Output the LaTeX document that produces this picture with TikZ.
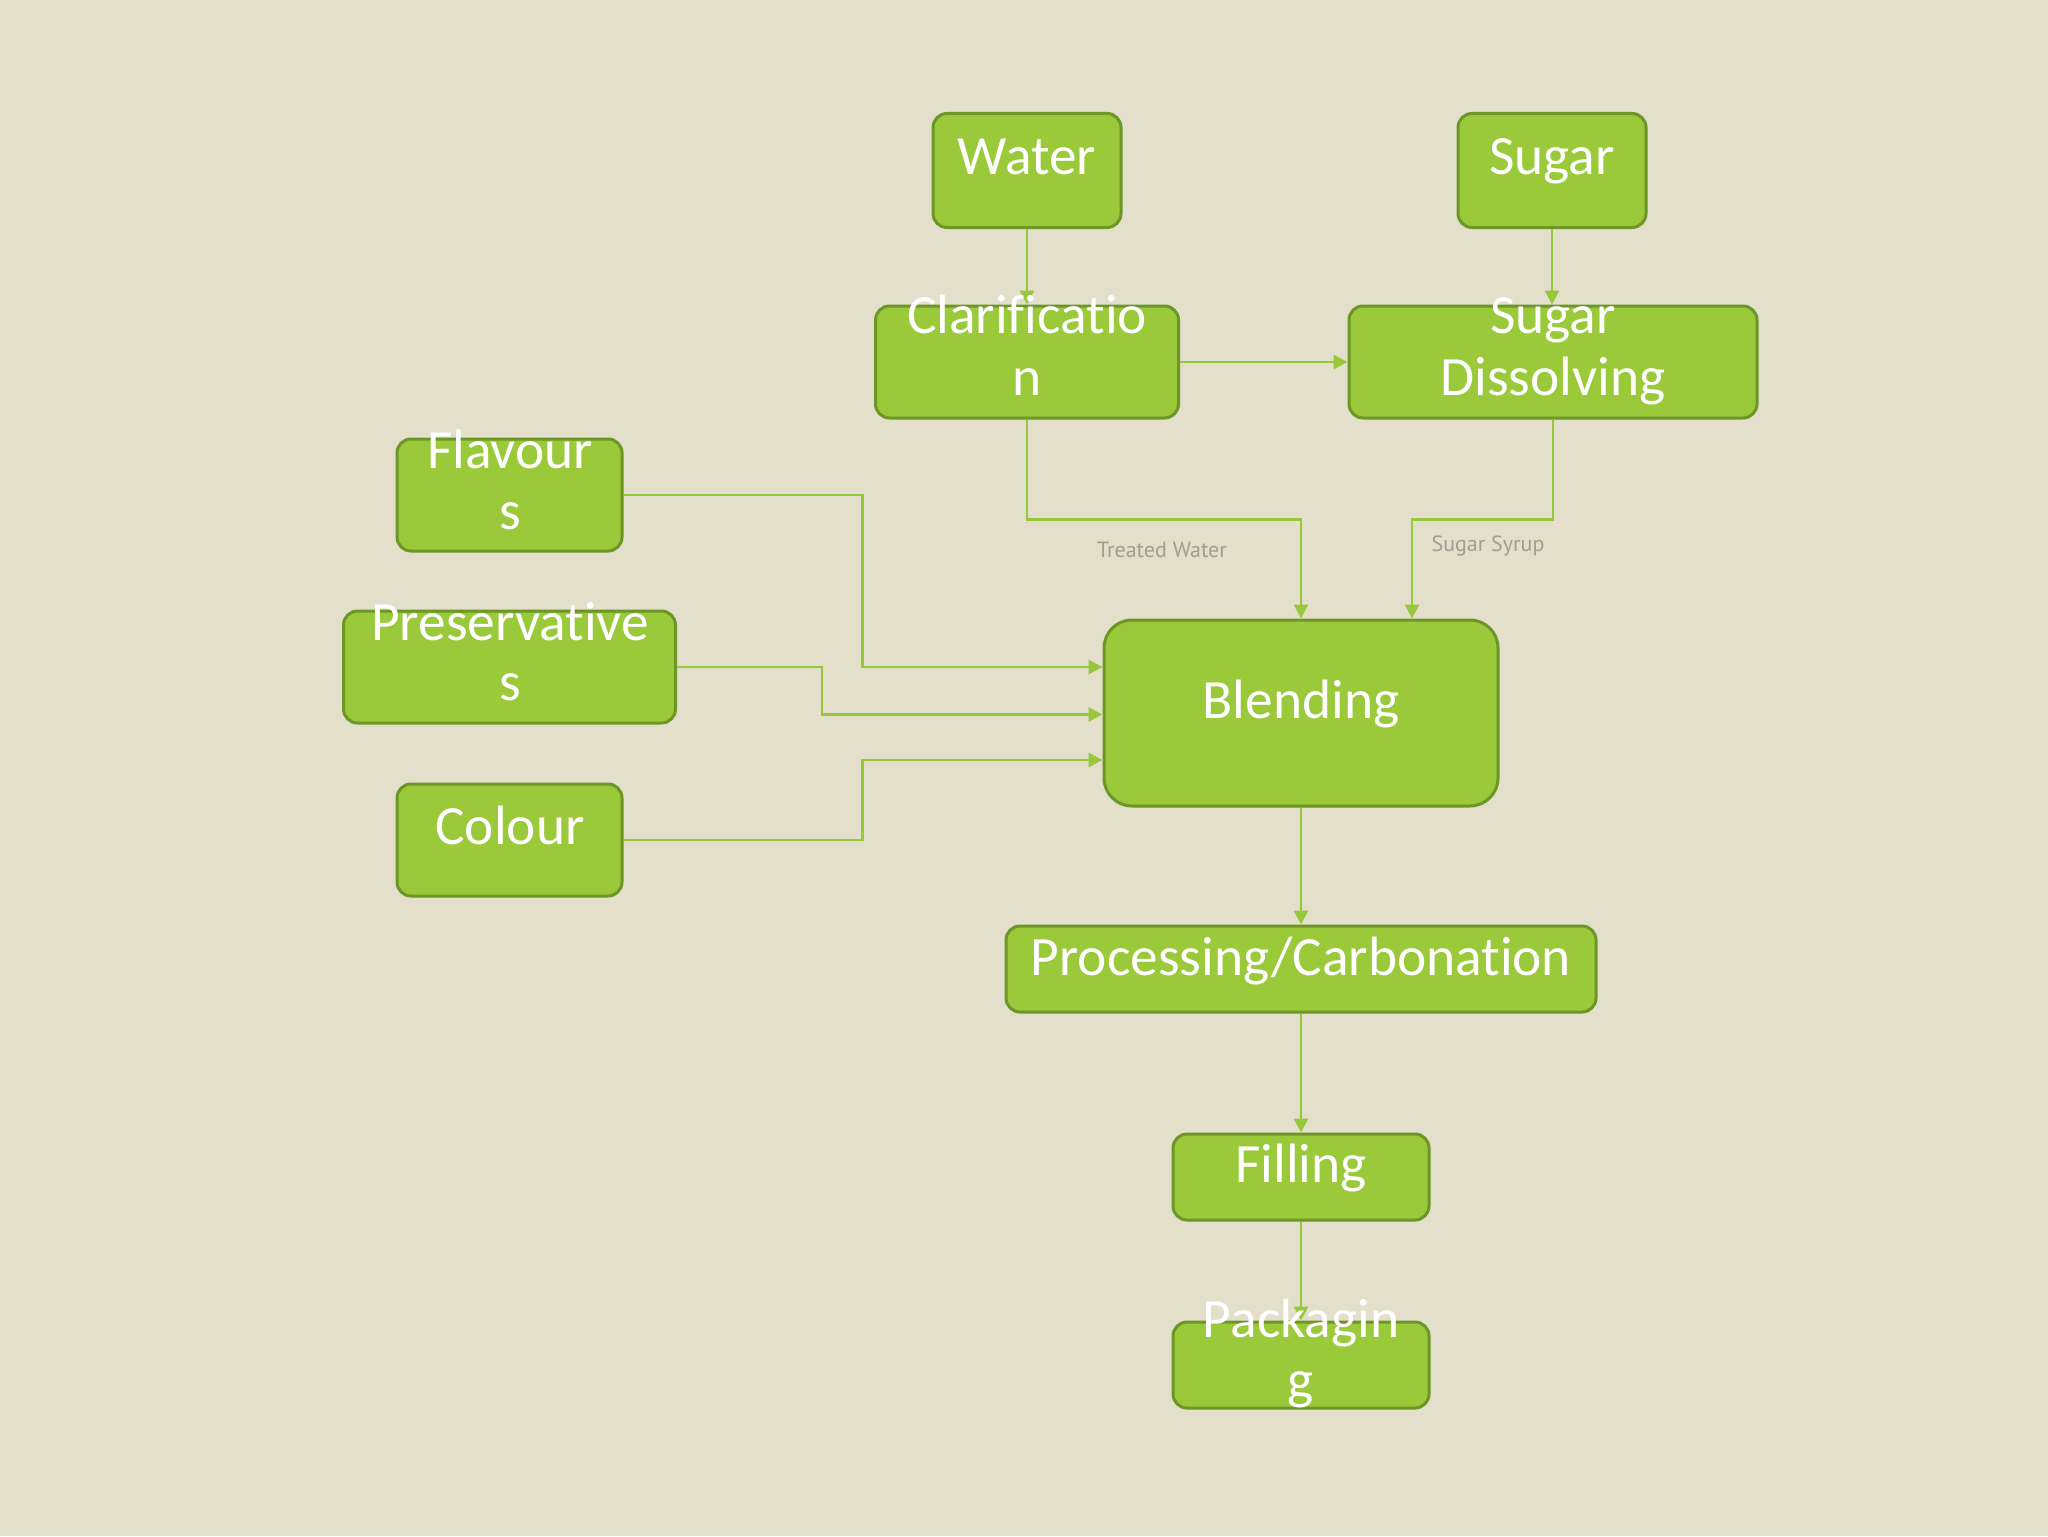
\documentclass[tikz,border=0pt]{standalone}
\usepackage{fontspec}
\setmainfont{Carlito}[Ligatures=NoCommon]
\newfontfamily\lblfont{PT Sans}
\usetikzlibrary{arrows.meta,calc}
\definecolor{bg}{RGB}{227,223,202}
\definecolor{boxfill}{RGB}{154,202,58}
\definecolor{boxline}{RGB}{108,150,38}
\definecolor{conncol}{RGB}{150,200,60}
\definecolor{lblcol}{RGB}{160,157,148}
\tikzset{
  box/.style={draw=boxline, fill=boxfill, line width=1.5pt, rounded corners=7pt, inner sep=0pt},
  btxt/.style={text=white, font=\fontsize{27.7}{30}\selectfont, anchor=base, inner sep=0pt},
  conn/.style={draw=conncol, line width=1.4pt, -{Triangle[length=7pt,width=7pt]}},
  lbl/.style={text=lblcol, font=\lblfont\fontsize{11}{13}\selectfont, inner sep=0pt},
}
\begin{document}
\begin{tikzpicture}[x=0.5pt,y=-0.5pt]
\fill[bg] (0,0) rectangle (2048,1536);
\useasboundingbox (0,0) rectangle (2048,1536);

% boxes
\node[box, minimum width=94pt, minimum height=57pt] (water) at (1027,170.5) {};
\node[box, minimum width=94pt, minimum height=57pt] (sugar) at (1552,170.5) {};
\node[box, minimum width=151.5pt, minimum height=56pt] (clar) at (1027,362) {};
\node[box, minimum width=204pt, minimum height=56pt] (sd) at (1553,362) {};
\node[box, minimum width=112.5pt, minimum height=56pt] (flav) at (509.5,495) {};
\node[box, minimum width=166pt, minimum height=56pt] (pres) at (509.5,667) {};
\node[box, minimum width=112.5pt, minimum height=56pt] (col) at (509.5,840) {};
\node[box, rounded corners=14pt, minimum width=197pt, minimum height=93pt] (blend) at (1301,713) {};
\node[box, minimum width=295pt, minimum height=43pt] (proc) at (1301,969) {};
\node[box, minimum width=128pt, minimum height=43pt] (fill) at (1301,1177) {};
\node[box, minimum width=128pt, minimum height=43pt] (pack) at (1301,1365) {};

% connectors
\draw[conn] (water.south) -- (clar.north);
\draw[conn] (sugar.south) -- (sugar.south |- sd.north);
\draw[conn] (clar.east) -- (sd.west);
\draw[conn] (clar.south) -- ++(0,100) -| (blend.north);
\draw[conn] (sd.south) -- ++(0,100) -| ($(blend.north)+(111,0)$);
\draw[conn] (flav.east) -- ++(239,0) |- ($(blend.west)+(0,-46)$);
\draw[conn] (pres.east) -- ++(145,0) |- ($(blend.west)+(0,1.5)$);
\draw[conn] (col.east) -- ++(239,0) |- ($(blend.west)+(0,47)$);
\draw[conn] (blend.south) -- (proc.north);
\draw[conn] (proc.south) -- (fill.north);
\draw[conn] (fill.south) -- (pack.north);

% labels
\node[lbl] (twlbl) at (1162,550) {Treated Water};
\node[lbl] (sslbl) at (1488,546) {Sugar Syrup};

% box texts
\node[btxt] (watert) at (1027,174) {Water};
\node[btxt] (sugart) at (1552,174) {Sugar};
\node[btxt] (clart1) at (1027,333) {Clarificatio};
\node[btxt] (clart2) at (1027,395) {n};
\node[btxt] (sdt1) at (1553,333) {Sugar};
\node[btxt] (sdt2) at (1553,395) {Dissolving};
\node[btxt] (flavt1) at (510,468) {Flavour};
\node[btxt] (flavt2) at (510,529) {s};
\node[btxt] (prest1) at (510,640) {Preservative};
\node[btxt] (prest2) at (510,700) {s};
\node[btxt] (colt) at (510,844) {Colour};
\node[btxt] (blendt) at (1301,718) {Blending};
\node[btxt] (proct) at (1301,975) {Processing/Carbonation};
\node[btxt] (fillt) at (1301,1182) {Filling};
\node[btxt] (packt1) at (1301,1337) {Packagin};
\node[btxt] (packt2) at (1301,1398) {g};
\end{tikzpicture}
\end{document}
